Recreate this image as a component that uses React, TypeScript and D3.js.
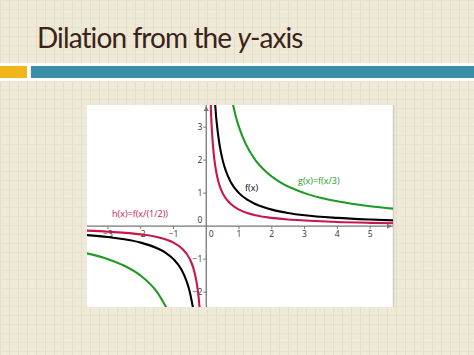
import React from "react";
import * as d3 from "d3";

// Tick labels on the axes
const xTicks = [-3, -2, -1, 0, 1, 2, 3, 4, 5];
const yTicks = [-2, -1, 0, 1, 2, 3];

// Curve samples (positive and negative branches)
const fPosX = [0.26, 0.3, 0.35, 0.4, 0.5, 0.6, 0.75, 1, 1.25, 1.5, 2, 2.5, 3, 4, 5, 5.8];
const fPosY = [3.85, 3.33, 2.86, 2.5, 2, 1.67, 1.33, 1, 0.8, 0.67, 0.5, 0.4, 0.33, 0.25, 0.2, 0.17];
const fNegX = [-3.8, -3, -2.5, -2, -1.5, -1.25, -1, -0.75, -0.6, -0.5, -0.4];
const fNegY = [-0.26, -0.33, -0.4, -0.5, -0.67, -0.8, -1, -1.33, -1.67, -2, -2.5];

const hPosX = [0.13, 0.15, 0.175, 0.2, 0.25, 0.3, 0.375, 0.5, 0.625, 0.75, 1, 1.25, 1.5, 2, 2.5, 3, 4, 5, 5.8];
const hPosY = [3.85, 3.33, 2.86, 2.5, 2, 1.67, 1.33, 1, 0.8, 0.67, 0.5, 0.4, 0.33, 0.25, 0.2, 0.17, 0.125, 0.1, 0.086];
const hNegX = [-3.8, -3, -2, -1.5, -1, -0.75, -0.5, -0.4, -0.3, -0.25, -0.2];
const hNegY = [-0.13, -0.17, -0.25, -0.33, -0.5, -0.67, -1, -1.25, -1.67, -2, -2.5];

const gPosX = [0.78, 0.9, 1, 1.2, 1.5, 1.8, 2.25, 3, 3.75, 4.5, 5, 5.8];
const gPosY = [3.85, 3.33, 3, 2.5, 2, 1.67, 1.33, 1, 0.8, 0.67, 0.6, 0.52];
const gNegX = [-3.8, -3, -2.5, -2, -1.5, -1.2];
const gNegY = [-0.79, -1, -1.2, -1.5, -2, -2.5];

const W = 474;
const H = 355;
const box = { left: 87, top: 105, right: 393, bottom: 307 };

const x = d3.scaleLinear().domain([-3.64, 5.7]).range([box.left, box.right]);
const y = d3.scaleLinear().domain([3.67, -2.45]).range([box.top, box.bottom]);

const line = d3
  .line<[number, number]>()
  .x((d) => x(d[0]))
  .y((d) => y(d[1]))
  .curve(d3.curveMonotoneX);

const pts = (xs: number[], ys: number[]) => xs.map((v, i) => [v, ys[i]] as [number, number]);

const curves = [
  { name: "f", color: "#000000", branches: [pts(fPosX, fPosY), pts(fNegX, fNegY)] },
  { name: "h", color: "#c8164b", branches: [pts(hPosX, hPosY), pts(hNegX, hNegY)] },
  { name: "g", color: "#1f9a24", branches: [pts(gPosX, gPosY), pts(gNegX, gNegY)] },
];

export default function App() {
  const x0 = x(0);
  const y0 = y(0);
  const axisColor = "#777777";
  const tickFont = "'Open Sans', 'DejaVu Sans', sans-serif";
  const tickFill = "#333333";

  return (
    <svg
      width={W}
      height={H}
      style={{ position: "absolute", left: 0, top: 0, display: "block" }}
    >
      <defs>
        <pattern id="grid" width="9" height="9" patternUnits="userSpaceOnUse">
          <rect width="9" height="9" fill="#efe9d8" />
          <line x1="0.5" y1="0" x2="0.5" y2="9" stroke="#e5ddca" strokeWidth="1" />
          <line x1="0" y1="0.5" x2="9" y2="0.5" stroke="#eae3d1" strokeWidth="1" />
        </pattern>
        <clipPath id="plot">
          <rect x={box.left} y={box.top} width={box.right - box.left} height={box.bottom - box.top} />
        </clipPath>
      </defs>

      {/* slide background */}
      <rect width={W} height={H} fill="url(#grid)" />

      {/* title */}
      <text
        x={37}
        y={48}
        fontFamily="Lato, 'Open Sans', sans-serif"
        fontSize={28}
        letterSpacing={-0.9}
        fill="#3a2417"
      >
        Dilation from the <tspan fontStyle="italic">y</tspan>-axis
      </text>

      {/* divider bar */}
      <rect x={0} y={63} width={W} height={18} fill="#ffffff" />
      <rect x={0} y={66} width={27} height={12} fill="#f2b61c" />
      <rect x={31} y={66} width={W - 31} height={12} fill="#3a8fa6" />

      {/* plot area */}
      <rect x={box.left} y={box.top} width={box.right - box.left} height={box.bottom - box.top} fill="#ffffff" />
      <line x1={box.right + 0.5} y1={box.top} x2={box.right + 0.5} y2={box.bottom} stroke="#d2cdc3" strokeWidth={1.5} />

      <g clipPath="url(#plot)">
        {/* axes */}
        <line x1={box.left} y1={y0} x2={box.right} y2={y0} stroke={axisColor} strokeWidth={1.3} />
        <line x1={x0} y1={box.top} x2={x0} y2={box.bottom} stroke={axisColor} strokeWidth={1.3} />
        <path d={`M${box.right - 1},${y0} l-5,-2.5 l0,5 z`} fill={axisColor} />
        <path d={`M${x0},${box.top + 1} l-2.5,5 l5,0 z`} fill={axisColor} />

        {xTicks.filter((t) => t !== 0).map((t) => (
          <g key={"xt" + t}>
            <line x1={x(t)} y1={y0} x2={x(t)} y2={y0 + 3} stroke={axisColor} strokeWidth={1} />
            <text x={x(t)} y={y0 + 11} textAnchor="middle" fontSize={8.5} fill={tickFill} fontFamily={tickFont}>
              {t < 0 ? "\u2212" + Math.abs(t) : t}
            </text>
          </g>
        ))}
        <text x={x0 + 5} y={y0 + 11} textAnchor="middle" fontSize={8.5} fill={tickFill} fontFamily={tickFont}>
          0
        </text>

        {yTicks.filter((t) => t !== 0).map((t) => (
          <g key={"yt" + t}>
            <line x1={x0 - 3} y1={y(t)} x2={x0} y2={y(t)} stroke={axisColor} strokeWidth={1} />
            <text x={x0 - 4} y={y(t) + 3} textAnchor="end" fontSize={8.5} fill={tickFill} fontFamily={tickFont}>
              {t < 0 ? "\u2212" + Math.abs(t) : t}
            </text>
          </g>
        ))}
        <text x={x0 - 4} y={y0 - 3} textAnchor="end" fontSize={8.5} fill={tickFill} fontFamily={tickFont}>
          0
        </text>

        {/* curves */}
        {curves.map((c) =>
          c.branches.map((b, i) => (
            <path key={c.name + i} d={line(b) || ""} fill="none" stroke={c.color} strokeWidth={2.1} />
          ))
        )}
      </g>

      {/* curve labels */}
      <text x={245} y={191} fontSize={9} fill="#000" fontFamily={tickFont}>
        f(x)
      </text>
      <text x={298} y={184} fontSize={9} fill="#1f9a24" fontFamily={tickFont}>
        g(x)=f(x/3)
      </text>
      <text x={112} y={217} fontSize={9} fill="#c8164b" fontFamily={tickFont}>
        h(x)=f(x/(1/2))
      </text>
    </svg>
  );
}
